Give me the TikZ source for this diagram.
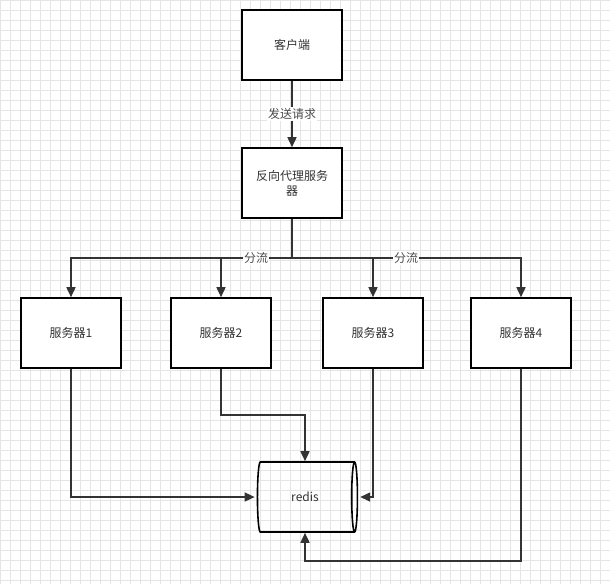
\documentclass[tikz,border=0pt]{standalone}
\usepackage{fontspec}
\setmainfont{Noto Sans CJK SC}
\usetikzlibrary{shapes.geometric,arrows.meta,positioning}
\tikzset{
  box/.style={draw, line width=1.6pt, minimum width=100pt, minimum height=70pt, align=center, fill=white, font=\fontsize{12}{15}\selectfont, text=black!80},
  flow/.style={line width=1.6pt, draw=black!80, -{Triangle[length=10pt,width=9pt]}},
  tag/.style={fill=white, inner sep=1pt, font=\fontsize{12}{15}\selectfont, text=black!70}
}
\begin{document}
\begin{tikzpicture}[x=1pt, y=-1pt]
            \useasboundingbox (0,0) rectangle (610,584);
            \draw[black!10, line width=0.5pt] (0,0) grid[step=10pt] (610,584);
            \node[box] (client) at (292,45) {客户端};
            \node[box] (proxy) at (292,183) {反向代理服务\\器};
            \node[box] (s1) at (71,333) {服务器1};
            \node[box] (s2) at (221,333) {服务器2};
            \node[box] (s3) at (373,333) {服务器3};
            \node[box] (s4) at (521,333) {服务器4};
            \node[draw, cylinder, line width=1.6pt, minimum width=70pt, minimum height=100pt, shape aspect=0.35, font=\fontsize{12}{15}\selectfont, text=black!80] (redis) at (305,497) {redis};
            \coordinate (split) at (292,258);
            \draw[flow] (client) -- node[tag] {发送请求} (proxy);
            \draw[line width=1.6pt, draw=black!80] (proxy.south) -- (split);
            \draw[flow] (split) -| (s1.north);
            \draw[flow] (split) -| (s2.north);
            \draw[flow] (split) -| (s3.north);
            \draw[flow] (split) -| (s4.north);
            \node[tag] (lb1) at (256,258) {分流};
            \node[tag] (lb2) at (406,258) {分流};
            \draw[flow] (s1.south) |- ([xshift=-2pt]redis.west);
            \draw[flow] (s2.south) -- ++(0,46) -| (redis.north);
            \draw[flow] (s3.south) |- ([xshift=2pt]redis.east);
            \draw[flow] (s4.south) -- ++(0,192) -| (redis.south);
        \end{tikzpicture}
\end{document}
